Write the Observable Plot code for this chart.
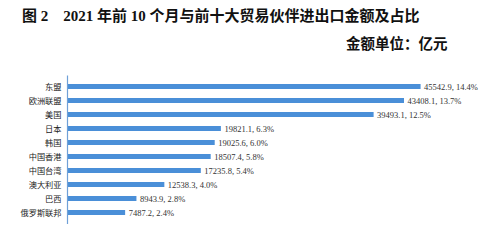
<!DOCTYPE html>
<html><head><meta charset="utf-8">
<script src="https://cdn.jsdelivr.net/npm/d3@7"></script>
<script src="https://cdn.jsdelivr.net/npm/@observablehq/plot@0.6"></script>
<style>
body{margin:0;background:#fff;width:500px;height:246px;overflow:hidden;position:relative;font-family:"Noto Sans CJK SC",sans-serif;}
#title{position:absolute;left:22px;top:4px;font-size:15px;font-weight:bold;color:#111;white-space:pre;font-family:"Liberation Serif","Noto Sans CJK SC",serif;}
#sub{position:absolute;left:346px;top:32px;font-size:14.5px;font-weight:bold;color:#111;white-space:pre;font-family:"Noto Sans CJK SC",sans-serif;}
#chart{position:absolute;left:0;top:60px;}
</style></head><body>
<div id="title">图 2    2021 年前 10 个月与前十大贸易伙伴进出口金额及占比</div>
<div id="sub">金额单位：亿元</div>
<div id="chart"></div>
<script>
const partners = ["东盟","欧洲联盟","美国","日本","韩国","中国香港","中国台湾","澳大利亚","巴西","俄罗斯联邦"];
const amounts = [45542.9,43408.1,39493.1,19821.1,19025.6,18507.4,17235.8,12538.3,8943.9,7487.2];
const shares = [14.4,13.7,12.5,6.3,6.0,5.8,5.4,4.0,2.8,2.4];
const data = partners.map((p,i)=>({partner:p, amount:amounts[i], share:shares[i]}));
const chart = Plot.plot({
  width:500, height:186,
  marginLeft:67, marginRight:6, marginTop:15.5, marginBottom:22,
  x:{domain:[0,55000], axis:null},
  y:{domain:partners, paddingInner:0.62, paddingOuter:0.36, label:null, axis:null},
  style:{fontFamily:"Noto Sans CJK SC, sans-serif", fontSize:"8px", color:"#222", background:"transparent"},
  marks:[
    Plot.barX(data,{x:"amount", y:"partner", fill:"#4a8fd8"}),
    Plot.text(data,{x:"amount", y:"partner", text:d=>`${d.amount.toFixed(1)}, ${d.share.toFixed(1)}%`, textAnchor:"start", dx:3, fontSize:8.5, fill:"#333", fontFamily:"Liberation Serif, serif"}),
    Plot.ruleX([0],{stroke:"#6fa0d8", strokeWidth:1.2}),
    Plot.axisY({tickSize:0, tickPadding:6, fontSize:8.2, fill:"#222", label:null})
  ]
});
document.getElementById("chart").appendChild(chart);
</script>
</body></html>
